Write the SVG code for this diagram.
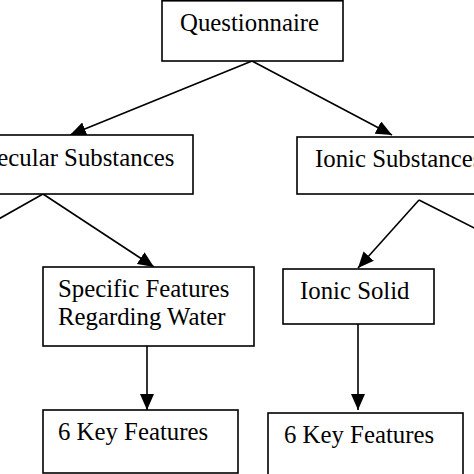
<svg xmlns="http://www.w3.org/2000/svg" width="474" height="474" viewBox="0 0 474 474">
<style>
.box{fill:#fff;stroke:#000;stroke-width:1.6}
.t{font-family:"Liberation Serif","Times New Roman",serif;font-size:24.8px;fill:#000}
.c{fill:none;stroke:#000;stroke-width:1.6}
</style>
<defs>
<marker id="ah" viewBox="0 0 16 14" refX="16" refY="7" markerWidth="16" markerHeight="14" markerUnits="userSpaceOnUse" orient="auto">
<path d="M0,0 L16,7 L0,14 Z" fill="#000"/>
</marker>
</defs>
<rect width="474" height="474" fill="#fff"/>
<g id="connectors">
<line class="c" x1="252" y1="61" x2="70" y2="135" marker-end="url(#ah)"/>
<line class="c" x1="252" y1="61" x2="392" y2="135" marker-end="url(#ah)"/>
<line class="c" x1="43" y1="194" x2="-12" y2="225"/>
<line class="c" x1="43" y1="194" x2="154" y2="267" marker-end="url(#ah)"/>
<line class="c" x1="147" y1="346" x2="147" y2="410" marker-end="url(#ah)"/>
<line class="c" x1="419" y1="200" x2="358" y2="268" marker-end="url(#ah)"/>
<line class="c" x1="419" y1="200" x2="480" y2="231"/>
<line class="c" x1="358" y1="324" x2="358" y2="410" marker-end="url(#ah)"/>
</g>
<g id="questionnaire">
<rect class="box" x="162" y="0.8" width="181" height="60.2"/>
<text class="t" x="180" y="31">Questionnaire</text>
</g>
<g id="molecular">
<rect class="box" x="-10" y="135" width="203" height="59"/>
<text class="t" x="-44" y="166">Molecular Substances</text>
</g>
<g id="ionic">
<rect class="box" x="297" y="137" width="190" height="57"/>
<text class="t" x="315" y="167">Ionic Substances</text>
</g>
<g id="specific">
<rect class="box" x="43" y="267" width="211" height="79"/>
<text class="t" x="58" y="297">Specific Features</text>
<text class="t" x="58" y="325">Regarding Water</text>
</g>
<g id="ionic-solid">
<rect class="box" x="283" y="269" width="151" height="55"/>
<text class="t" x="300" y="299">Ionic Solid</text>
</g>
<g id="key-left">
<rect class="box" x="43" y="410" width="195" height="63"/>
<text class="t" x="58" y="440">6 Key Features</text>
</g>
<g id="key-right">
<rect class="box" x="268" y="413" width="195" height="70"/>
<text class="t" x="284" y="443">6 Key Features</text>
</g>
</svg>
